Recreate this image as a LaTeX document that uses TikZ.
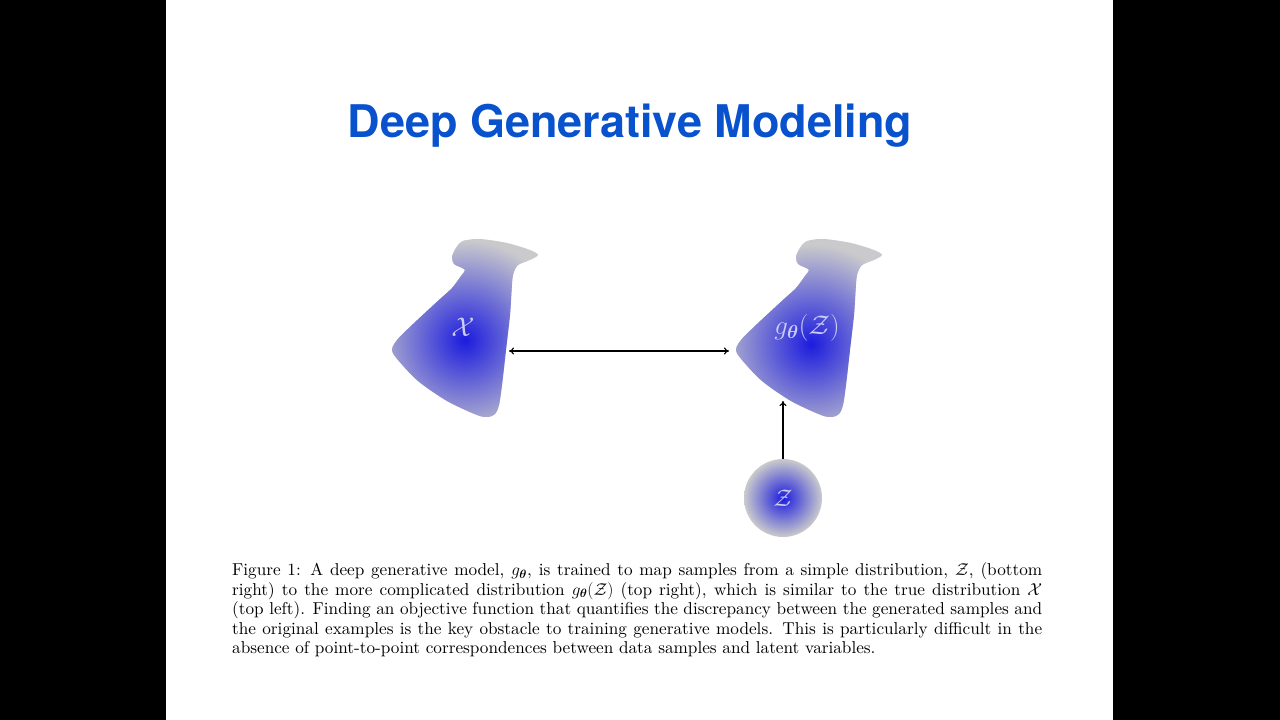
\RequirePackage{fix-cm}
\documentclass[tikz,border=0pt]{standalone}
\usepackage{amsmath, amssymb, bm}
\usepackage{fontspec}
\usepackage{tikz}
\usetikzlibrary{arrows.meta, positioning}
\setmainfont{lmroman10-regular.otf}[BoldFont=lmroman10-bold.otf, ItalicFont=lmroman10-italic.otf]
\newfontfamily\headfont{TeX Gyre Heros}
\definecolor{titleblue}{RGB}{8, 82, 206}
\definecolor{coreblue}{RGB}{28, 28, 222}
\definecolor{rimgray}{RGB}{202, 202, 204}
\definecolor{labelwhite}{RGB}{205, 205, 242}
\pgfdeclareradialshading{zglow}{\pgfpoint{0bp}{0bp}}{color(0bp)=(coreblue); color(25bp)=(rimgray); color(50bp)=(rimgray)}
% outline of one distribution blob (pixel coordinates, y downwards)
\newcommand\blobpath{plot[smooth cycle, tension=0.5] coordinates {(463,241) (480,239) (507,243) (530,250) (538,255) (530,260) (518,265) (513,275) (511.5,292) (510,315) (506,350) (502,385) (499,405) (495,414) (488,417) (477,415) (447,401) (418,381) (398,360) (392,350) (397,340) (413,324) (440,299) (452,288) (461,276) (465,270) (460,267) (454,264) (452,257) (456,248)}}

\begin{document}
\begin{tikzpicture}[x=1pt, y=-1pt,
  blobtext/.style={text=labelwhite, font=\fontsize{27}{30}\selectfont},
  link/.style={line width=1.1pt, {To[length=5pt, width=7pt]}-{To[length=5pt, width=7pt]}},
  feed/.style={line width=1.1pt, -{To[length=5pt, width=7pt]}}]
  \useasboundingbox (0,0) rectangle (1280,720);
  \fill[black] (0,0) rectangle (1280,720);
  \fill[white] (166,0) rectangle (1113,720);
  \node[anchor=base, text=titleblue, font=\headfont\bfseries\fontsize{45}{54}\selectfont] (title) at (630,137) {Deep Generative Modeling};
  % data distribution (left) and generated distribution (right)
  \fill[rimgray] \blobpath;
  \begin{scope}
    \clip \blobpath;
    \shade[inner color=coreblue, outer color=rimgray] (465,340) circle[radius=100pt];
  \end{scope}
  \begin{scope}[shift={(344,0)}]
    \fill[rimgray] \blobpath;
    \begin{scope}
      \clip \blobpath;
      \shade[inner color=coreblue, outer color=rimgray] (467,344) circle[radius=100pt];
    \end{scope}
  \end{scope}
  \node[blobtext] (xdata) at (463,327) {$\mathcal{X}$};
  \node[blobtext] (gmodel) at (807,328) {$g_{\bm{\theta}}(\mathcal{Z})$};
  \node[circle, minimum size=78pt, inner sep=0pt, shade, shading=zglow, text=labelwhite, font=\fontsize{24}{28}\selectfont] (zlatent) at (783,498) {$\mathcal{Z}$};
  \coordinate (xedge) at (509,351);
  \coordinate (gedge) at (729,351);
  \coordinate (gfoot) at (783,401);
  \draw[link] (xedge) -- (gedge);
  \draw[feed] (zlatent.north) -- (gfoot);
  \node[anchor=base west, text width=810pt, align=justify, inner sep=0pt, font=\fontsize{17.2}{19.5}\selectfont] (caption) at (232,575.5) {\hyphenpenalty=10000
    Figure 1: A deep generative model, $g_{\bm{\theta}}$, is trained to map samples from a simple distribution, $\mathcal{Z}$, (bottom\linebreak
    right) to the more complicated distribution $g_{\bm{\theta}}(\mathcal{Z})$ (top right), which is similar to the true distribution $\mathcal{X}$\linebreak
    (top left). Finding an objective function that quantifies the discrepancy between the generated samples and\linebreak
    the original examples is the key obstacle to training generative models. This is particularly difficult in the\linebreak
    absence of point-to-point correspondences between data samples and latent variables.};
\end{tikzpicture}
\end{document}
